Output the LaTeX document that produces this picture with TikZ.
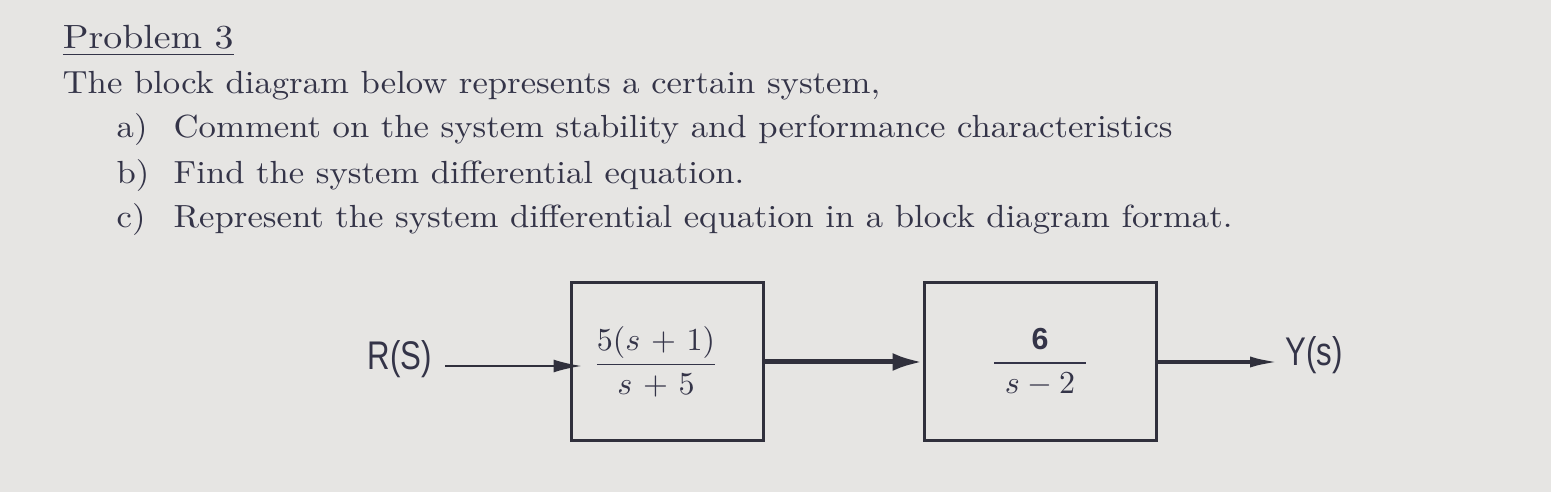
\documentclass[tikz,border=0pt]{standalone}
\usepackage{fontspec}
\usepackage{amsmath}
\usepackage{graphicx}
\newfontfamily\labelfont{Liberation Sans}[FakeStretch=0.78]
\newfontfamily\digitfont{Liberation Sans}
\usetikzlibrary{arrows.meta,positioning}
\definecolor{paper}{RGB}{230,229,227}
\definecolor{ink}{RGB}{52,52,72}
\definecolor{wire}{RGB}{48,48,60}
\tikzstyle{block}=[draw=wire,line width=3pt,minimum width=192pt,minimum height=158pt,inner sep=0pt,text=ink,font=\fontsize{10}{12}\selectfont]
\tikzstyle{signal}=[draw=wire,line width=2.5pt]
\tikzstyle{para}=[anchor=base west,inner sep=0pt,text=ink,font=\fontsize{10}{12}\selectfont,xscale=3.47,yscale=3.2,transform shape]
\tikzstyle{sig}=[text=ink,inner sep=0pt,font=\labelfont\fontsize{40}{40}\selectfont]
\newcommand{\gain}[2]{\scalebox{3.2}{$\dfrac{#1}{#2}$}}

\begin{document}
\begin{tikzpicture}[x=1pt,y=1pt]
\fill[paper] (0,0) rectangle (1551,492);
\useasboundingbox (0,0) rectangle (1551,492);

% Problem text
\node[para,xscale=1.09,yscale=1.05] (title) at (62,443) {\underline{Problem 3}};
\node[para] (intro) at (62,398) {The block diagram below represents a certain system,};
\foreach \y/\name/\tag/\txt in {354/a/a)/{Comment on the system stability and performance characteristics},
    308/b/b)/{Find the system differential equation.},
    264/c/c)/{Represent the system differential equation in a block diagram format.}}
{
  \node[para] (tag\name) at (116,\y) {\tag};
  \node[para] (item\name) at (173,\y) {\txt};
}

% Blocks
\node[block] (G1) at (667,130) {\gain{5(s\mkern2mu+\mkern2mu1)}{s\mkern2mu+\mkern2mu5}\hspace*{22pt}};
\node[block,minimum width=232pt] (G2) at (1040,130) {\gain{\text{\digitfont\bfseries\fontsize{9.5}{10}\selectfont 6}}{\mkern6mu s-2\mkern6mu}};

% Signals
\node[sig,anchor=east] (R) at (432,133) {R(S)};
\node[sig,anchor=west] (Y) at (1285,137) {Y(s)};

\draw[signal,line width=2pt,-{Latex[length=28pt,width=13pt]},shorten >=1pt] ([xshift=13pt,yshift=-7pt]R.east) -- ([xshift=13pt,yshift=-7pt]R.east -| G1.west);
\draw[signal,line width=5pt,-{Latex[length=30pt,width=18pt]}] (G1) -- (G2);
\draw[signal,line width=4pt,-{Latex[length=30pt,width=11pt]}] (G2) -- ([xshift=-5pt]G2 -| Y.west);

\end{tikzpicture}
\end{document}
